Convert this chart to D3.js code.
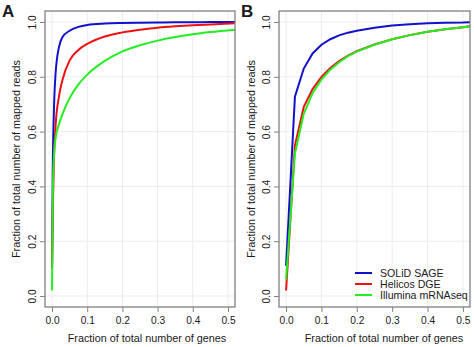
<!DOCTYPE html>
<html><head><meta charset="utf-8">
<script src="https://cdn.jsdelivr.net/npm/d3@7"></script>
<style>body{margin:0;background:#fff}svg{display:block}text{font-family:"Liberation Sans",Arial,sans-serif;fill:#1a1a1a}</style>
</head><body>
<svg id="chart" width="474" height="347"></svg>
<script>
const seriesNames = ["SOLiD SAGE", "Helicos DGE", "Illumina mRNAseq"];
const seriesColors = ["#1111cc", "#ee1111", "#22ee22"];
const xTicks = [0, 0.1, 0.2, 0.3, 0.4, 0.5];
const yTicks = [0, 0.2, 0.4, 0.6, 0.8, 1.0];

// Panel A
const aX = [0, 0.002, 0.005, 0.01, 0.02, 0.03, 0.05, 0.075, 0.1, 0.15, 0.2, 0.25, 0.3, 0.35, 0.4, 0.45, 0.52];
const aSolid    = [0.10, 0.45, 0.66, 0.81, 0.91, 0.945, 0.968, 0.982, 0.989, 0.994, 0.996, 0.997, 0.998, 0.999, 0.999, 0.9995, 0.9995];
const aHelicos  = [0.10, 0.30, 0.48, 0.62, 0.73, 0.79, 0.86, 0.898, 0.92, 0.947, 0.962, 0.972, 0.979, 0.984, 0.988, 0.991, 0.995];
const aIllumina = [0.02, 0.35, 0.50, 0.575, 0.628, 0.665, 0.722, 0.772, 0.808, 0.858, 0.893, 0.915, 0.932, 0.945, 0.955, 0.963, 0.972];

// Panel B
const bX = [0, 0.025, 0.05, 0.075, 0.1, 0.125, 0.15, 0.175, 0.2, 0.25, 0.3, 0.35, 0.4, 0.45, 0.5, 0.52];
const bSolid    = [0.11, 0.727, 0.83, 0.885, 0.917, 0.937, 0.951, 0.961, 0.968, 0.979, 0.987, 0.992, 0.995, 0.997, 0.998, 0.999];
const bHelicos  = [0.02, 0.55, 0.69, 0.755, 0.80, 0.832, 0.857, 0.877, 0.893, 0.918, 0.937, 0.952, 0.964, 0.973, 0.981, 0.984];
const bIllumina = [0.06, 0.52, 0.665, 0.74, 0.79, 0.826, 0.853, 0.875, 0.892, 0.917, 0.937, 0.952, 0.964, 0.973, 0.981, 0.984];

const panels = [
  {label: "A", x: aX, ys: [aSolid, aHelicos, aIllumina], left: 45, right: 235, labelX: 2, ytitleX: 16, ylabX: 32, xtitleX: 147, curve: d3.curveMonotoneX, legend: false},
  {label: "B", x: bX, ys: [bSolid, bHelicos, bIllumina], left: 279, right: 470, labelX: 241, ytitleX: 251, ylabX: 266, xtitleX: 384, curve: d3.curveLinear, legend: true}
];

const svg = d3.select("#chart");
const plotTop = 11, plotBottom = 307;
const frame = "#808080";

panels.forEach((p, pi) => {
  const x = d3.scaleLinear().domain([-0.02, 0.52]).range([p.left, p.right]);
  const y = d3.scaleLinear().domain([-0.04, 1.04]).range([plotBottom, plotTop]);
  const g = svg.append("g");

  g.selectAll(".gx").data(xTicks).join("line")
    .attr("x1", d => x(d)).attr("x2", d => x(d)).attr("y1", plotTop).attr("y2", plotBottom)
    .attr("stroke", "#ececec").attr("stroke-width", 1);
  g.selectAll(".gy").data(yTicks).join("line")
    .attr("y1", d => y(d)).attr("y2", d => y(d)).attr("x1", p.left).attr("x2", p.right)
    .attr("stroke", "#ececec").attr("stroke-width", 1);

  svg.append("clipPath").attr("id", "clip" + pi).append("rect")
    .attr("x", p.left).attr("y", plotTop).attr("width", p.right - p.left).attr("height", plotBottom - plotTop);

  const line = d3.line().x((d, i) => x(p.x[i])).y(d => y(d)).curve(p.curve);
  g.append("g").attr("clip-path", `url(#clip${pi})`)
    .selectAll("path").data(p.ys).join("path")
    .attr("d", d => line(d))
    .attr("fill", "none")
    .attr("stroke", (d, i) => seriesColors[i])
    .attr("stroke-width", 2);

  const xAxis = d3.axisBottom(x).tickValues(xTicks).tickFormat(d3.format(".1f")).tickSize(5).tickPadding(4);
  const gx = g.append("g").attr("transform", `translate(0,${plotBottom})`).call(xAxis);
  gx.select(".domain").remove();
  gx.selectAll(".tick line").attr("stroke", frame);
  gx.selectAll(".tick text").attr("font-size", "10.2px").style("font-family", '"Liberation Sans",Arial,sans-serif').attr("fill", "#1a1a1a").attr("y", 10);

  const yAxis = d3.axisLeft(y).tickValues(yTicks).tickFormat(d3.format(".1f")).tickSize(5);
  const gy = g.append("g").attr("transform", `translate(${p.left},0)`).call(yAxis);
  gy.select(".domain").remove();
  gy.selectAll(".tick line").attr("stroke", frame);
  gy.selectAll(".tick text")
    .attr("font-size", "10.2px").style("font-family", '"Liberation Sans",Arial,sans-serif').attr("fill", "#1a1a1a")
    .attr("x", null).attr("dy", null)
    .attr("text-anchor", "middle")
    .attr("transform", `translate(${p.ylabX - p.left + 3.5},0) rotate(-90)`);

  g.append("rect").attr("x", p.left).attr("y", plotTop)
    .attr("width", p.right - p.left).attr("height", plotBottom - plotTop)
    .attr("fill", "none").attr("stroke", frame).attr("stroke-width", 1.3);

  g.append("text").attr("x", p.xtitleX).attr("y", 342).attr("text-anchor", "middle")
    .attr("font-size", "10.8px").text("Fraction of total number of genes");
  g.append("text").attr("transform", `translate(${p.ytitleX + 4},159) rotate(-90)`)
    .attr("text-anchor", "middle").attr("font-size", "10.8px")
    .text("Fraction of total number of mapped reads");
  g.append("text").attr("x", p.labelX).attr("y", 17).attr("font-size", "17px").attr("font-weight", "bold")
    .text(p.label);

  if (p.legend) {
    const lg = g.append("g");
    const rows = [273, 284, 295];
    seriesNames.forEach((n, i) => {
      lg.append("line").attr("x1", 355).attr("x2", 372).attr("y1", rows[i]).attr("y2", rows[i])
        .attr("stroke", seriesColors[i]).attr("stroke-width", 2);
      lg.append("text").attr("x", 380).attr("y", rows[i] + 3.8).attr("font-size", "10.6px").text(n);
    });
  }
});
</script>
</body></html>
